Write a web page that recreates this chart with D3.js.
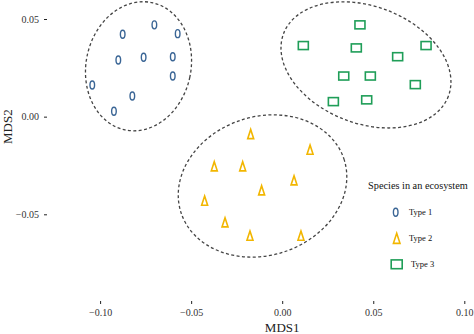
<!DOCTYPE html>
<html><head><meta charset="utf-8">
<script src="https://cdn.jsdelivr.net/npm/d3@7"></script>
<style>body{margin:0;background:#fff}svg{display:block}text{font-family:"Liberation Serif","Times New Roman",serif}</style>
</head><body>
<script>
// ---- data ----
const type1X = [-0.0702,-0.0876,-0.0574,-0.0900,-0.0761,-0.0601,-0.0601,-0.1043,-0.0823,-0.0924];
const type1Y = [ 0.0470, 0.0422, 0.0425, 0.0290, 0.0304, 0.0307, 0.0208, 0.0162, 0.0106, 0.0028];
const type2X = [-0.0173, 0.0153,-0.0373,-0.0217, 0.0065,-0.0113,-0.0426,-0.0314,-0.0177, 0.0103];
const type2Y = [-0.0089,-0.0169,-0.0254,-0.0254,-0.0326,-0.0377,-0.0430,-0.0541,-0.0609,-0.0609];
const type3X = [ 0.0427, 0.0116, 0.0407, 0.0790, 0.0634, 0.0338, 0.0484, 0.0731, 0.0281, 0.0464];
const type3Y = [ 0.0470, 0.0364, 0.0352, 0.0364, 0.0307, 0.0208, 0.0208, 0.0164, 0.0077, 0.0086];
const types = ["Type 1","Type 2","Type 3"];
// group ellipses (data units): centre, semi-axes, tilt in degrees
const ellCx = [-0.0789,-0.0108, 0.0460];
const ellCy = [ 0.0258,-0.0355, 0.0265];
const ellRx = [ 0.0288, 0.0471, 0.0484];
const ellRy = [ 0.0333, 0.0355, 0.0300];
const ellAngle = [12, -18.4, 20.8];
const xTicks = [-0.10,-0.05,0.00,0.05,0.10];
const yTicks = [-0.05,0.00,0.05];
const legendTitle = "Species in an ecosystem";

const W=474,H=334;
const colors = ["#3a6595","#f2b600","#1f9e58"];
const svg = d3.select("body").append("svg").attr("width",W).attr("height",H);
const x = d3.scaleLinear().domain([-0.10,0.10]).range([100.1,464.3]);
const y = d3.scaleLinear().domain([-0.05,0.05]).range([214.3,19.0]);

// axes (ticks only, no domain line)
const xAxis = svg.append("g").attr("transform","translate(0,301)")
  .call(d3.axisBottom(x).tickValues(xTicks).tickSize(3).tickPadding(5).tickFormat(d3.format(".2f")));
const yAxis = svg.append("g").attr("transform","translate(47,0)")
  .call(d3.axisLeft(y).tickValues(yTicks).tickSize(3).tickPadding(5).tickFormat(d3.format(".2f")));
[xAxis,yAxis].forEach(g=>{
  g.select(".domain").remove();
  g.selectAll("line").attr("stroke","#222").attr("stroke-width",1);
  g.selectAll("text").attr("font-family","Liberation Serif, serif").attr("font-size",10).attr("fill","#333");
});
xAxis.selectAll("text").text(d=>d3.format(".2f")(d).replace("-","\u2212"));
yAxis.selectAll("text").text(d=>d3.format(".2f")(d).replace("-","\u2212"));

svg.append("text").attr("x",(x(-0.10)+x(0.10))/2).attr("y",332).attr("text-anchor","middle")
  .attr("font-size",13).attr("fill","#222").text("MDS1");
svg.append("text").attr("transform",`translate(12,${(y(0.05)+y(-0.05))/2+10}) rotate(-90)`).attr("text-anchor","middle")
  .attr("font-size",13).attr("fill","#222").text("MDS2");

// ellipses
svg.append("g").selectAll("ellipse").data(ellCx.map((c,i)=>i)).join("ellipse")
  .attr("cx",0).attr("cy",0)
  .attr("rx",i=>x(ellRx[i])-x(0)).attr("ry",i=>y(0)-y(ellRy[i]))
  .attr("transform",i=>`translate(${x(ellCx[i])},${y(ellCy[i])}) rotate(${ellAngle[i]})`)
  .attr("fill","none").attr("stroke","#444").attr("stroke-width",1.3).attr("stroke-dasharray","3,2.4");

// symbols
function drawSymbol(g,t,s){
  if(t===0){
    g.append("ellipse").attr("rx",2.3*s).attr("ry",4*s).attr("fill","none")
     .attr("stroke",colors[0]).attr("stroke-width",1.4);
  } else if(t===1){
    g.append("path").attr("d",`M0,${-4.6*s}L${3*s},${4.6*s}L${-3*s},${4.6*s}Z`).attr("fill","none")
     .attr("stroke",colors[1]).attr("stroke-width",1.6).attr("stroke-linejoin","miter");
  } else {
    g.append("rect").attr("x",-5*s).attr("y",-4*s).attr("width",10*s).attr("height",8*s).attr("fill","none")
     .attr("stroke",colors[2]).attr("stroke-width",1.6);
  }
}
const series = [[type1X,type1Y],[type2X,type2Y],[type3X,type3Y]];
series.forEach(([xs,ys],t)=>{
  xs.forEach((v,i)=>{
    const g = svg.append("g").attr("transform",`translate(${x(v)},${y(ys[i])})`);
    drawSymbol(g,t,1);
  });
});

// legend
const lg = svg.append("g");
lg.append("text").attr("x",368).attr("y",189).attr("font-size",10.3).attr("fill","#111").text(legendTitle);
types.forEach((name,i)=>{
  const cy = 212.3 + i*26;
  const g = lg.append("g").attr("transform",`translate(${i===0?395.7:396.7},${cy})`);
  drawSymbol(g,i,i===0?1.0:1.1);
  lg.append("text").attr("x",i===2?411:409).attr("y",cy+3).attr("font-size",8.5).attr("fill","#111").text(name);
});
</script>
</body></html>
